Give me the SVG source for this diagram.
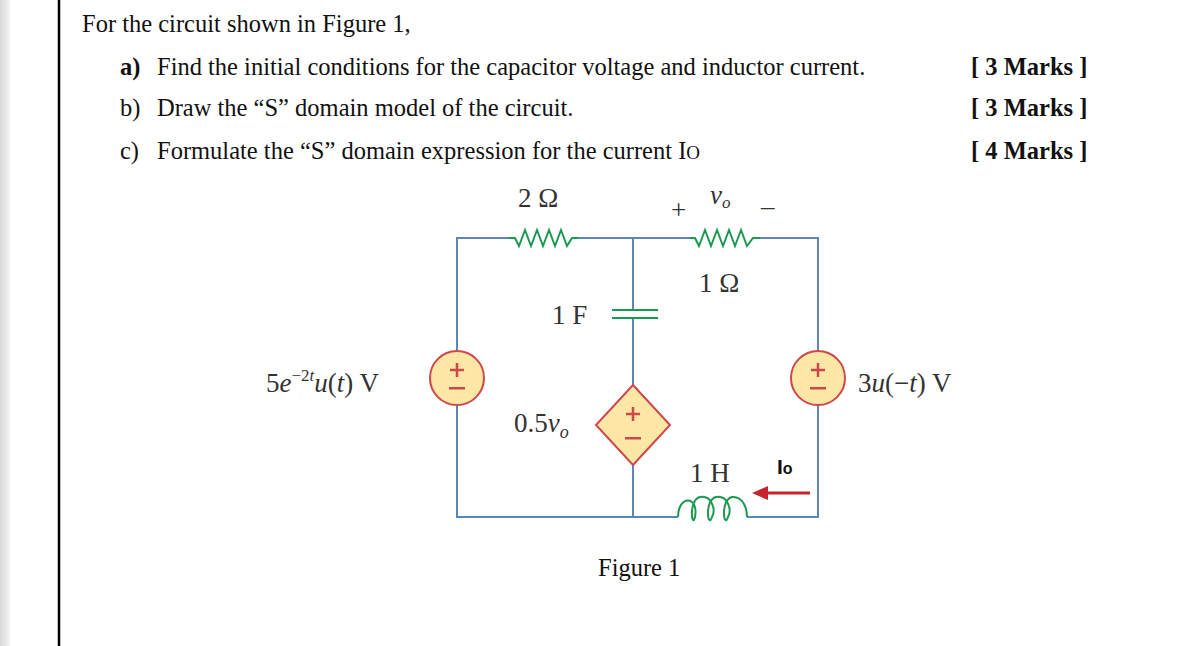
<svg xmlns="http://www.w3.org/2000/svg" width="1179" height="646" viewBox="0 0 1179 646">
<defs>
<linearGradient id="g" x1="0" x2="1"><stop offset="0" stop-color="#d8d8d8"/><stop offset="1" stop-color="#f4f4f4"/></linearGradient>
<style>
.t{font-family:"Liberation Serif",serif;font-size:24.5px;fill:#111}
.w{fill:none;stroke:#5b86b8;stroke-width:2}
.g{fill:none;stroke:#1a9a50;stroke-width:2}
.s{fill:#fde7a6;stroke:#d0474a;stroke-width:2}
.p{stroke:#d0474a;stroke-width:2.5;fill:none}
.m{fill:#d0474a}
.l{font-family:"Liberation Serif",serif;font-size:27px;fill:#333}
</style>
</defs>
<rect width="1179" height="646" fill="#fff"/>
<rect x="0" y="0" width="10" height="646" fill="url(#g)"/>
<line x1="59" y1="0" x2="59" y2="646" stroke="#000" stroke-width="2.5"/>
<g id="text">
<text class="t" x="82" y="32">For the circuit shown in Figure 1,</text>
<text class="t" x="120" y="75" font-weight="bold">a)</text><text class="t" x="157" y="75">Find the initial conditions for the capacitor voltage and inductor current.</text>
<text class="t" x="120" y="116">b)</text><text class="t" x="157" y="116">Draw the “S” domain model of the circuit.</text>
<text class="t" x="120" y="159">c)</text><text class="t" x="157" y="159">Formulate the “S” domain expression for the current I<tspan font-size="19">O</tspan></text>
<text class="t" x="971" y="75" font-weight="bold">[ 3 Marks ]</text>
<text class="t" x="971" y="116" font-weight="bold">[ 3 Marks ]</text>
<text class="t" x="971" y="159" font-weight="bold">[ 4 Marks ]</text>
<text class="t" x="598" y="576">Figure 1</text>
</g>
<g id="connectors">
<path class="w" d="M509 238H457V351M457 405V517H678M747 517H818V405M818 351V238H760M690 238H578M633 238V310M633 318V385M633 465V517"/>
</g>
<g id="r2"><path class="g" d="M509 238L515 238L519 246L525 230L531 246L537 230L543 246L549 230L555 246L561 230L567 246L572 238L578 238"/><text class="l" x="518" y="207">2 Ω</text></g>
<g id="r1"><path class="g" d="M690 238L695 238L699 246L705 230L711 246L717 230L723 246L729 230L735 246L741 230L747 246L753 238L760 238"/><text class="l" x="699" y="292">1 Ω</text>
<text class="l" x="671" y="219" font-size="24">+</text><text class="l" x="710" y="204" font-style="italic" font-size="24">v<tspan font-size="17" dy="4">o</tspan></text><text class="l" x="761" y="215" font-size="24">–</text></g>
<g id="cap"><path class="g" d="M612 310H658M612 318H658"/><text class="l" x="552" y="324">1 F</text></g>
<g id="vs1"><circle class="s" cx="457" cy="378" r="27"/><path class="p" d="M450 370H464M457 363V377"/><rect class="m" x="449" y="387" width="16" height="2.5"/><text class="l" x="266" y="392">5<tspan font-style="italic">e</tspan><tspan font-size="17" dy="-11">−2<tspan font-style="italic">t</tspan></tspan><tspan dy="11" font-style="italic">u</tspan>(<tspan font-style="italic">t</tspan>) V</text></g>
<g id="vs2"><circle class="s" cx="818" cy="378" r="27"/><path class="p" d="M811 370H825M818 363V377"/><rect class="m" x="810" y="387" width="16" height="2.5"/><text class="l" x="858" y="392">3<tspan font-style="italic">u</tspan>(−<tspan font-style="italic">t</tspan>) V</text></g>
<g id="dep"><path class="s" d="M633 385L670 425L633 465L596 425Z"/><path class="p" d="M626 414H640M633 407V421"/><rect class="m" x="625" y="437" width="16" height="2.5"/><text class="l" x="514" y="432">0.5<tspan font-style="italic">v</tspan><tspan font-style="italic" font-size="18" dy="6">o</tspan></text></g>
<g id="ind"><path class="g" d="M678 517C678 495 699 495 695 517C692 530 688 500 700 497C712 495 716 510 712 517C708 530 704 500 716 497C728 495 732 510 728 517C724 530 720 500 732 497C744 496 747 510 747 517"/><text class="l" x="690" y="482">1 H</text>
<path d="M810 493H765" stroke="#c8242b" stroke-width="3"/><path d="M752 493L768 486L768 500Z" fill="#c8242b"/>
<text x="777" y="474" font-family="Liberation Sans,sans-serif" font-size="21" font-weight="bold" fill="#111">I<tspan font-size="16">o</tspan></text></g>
</svg>
